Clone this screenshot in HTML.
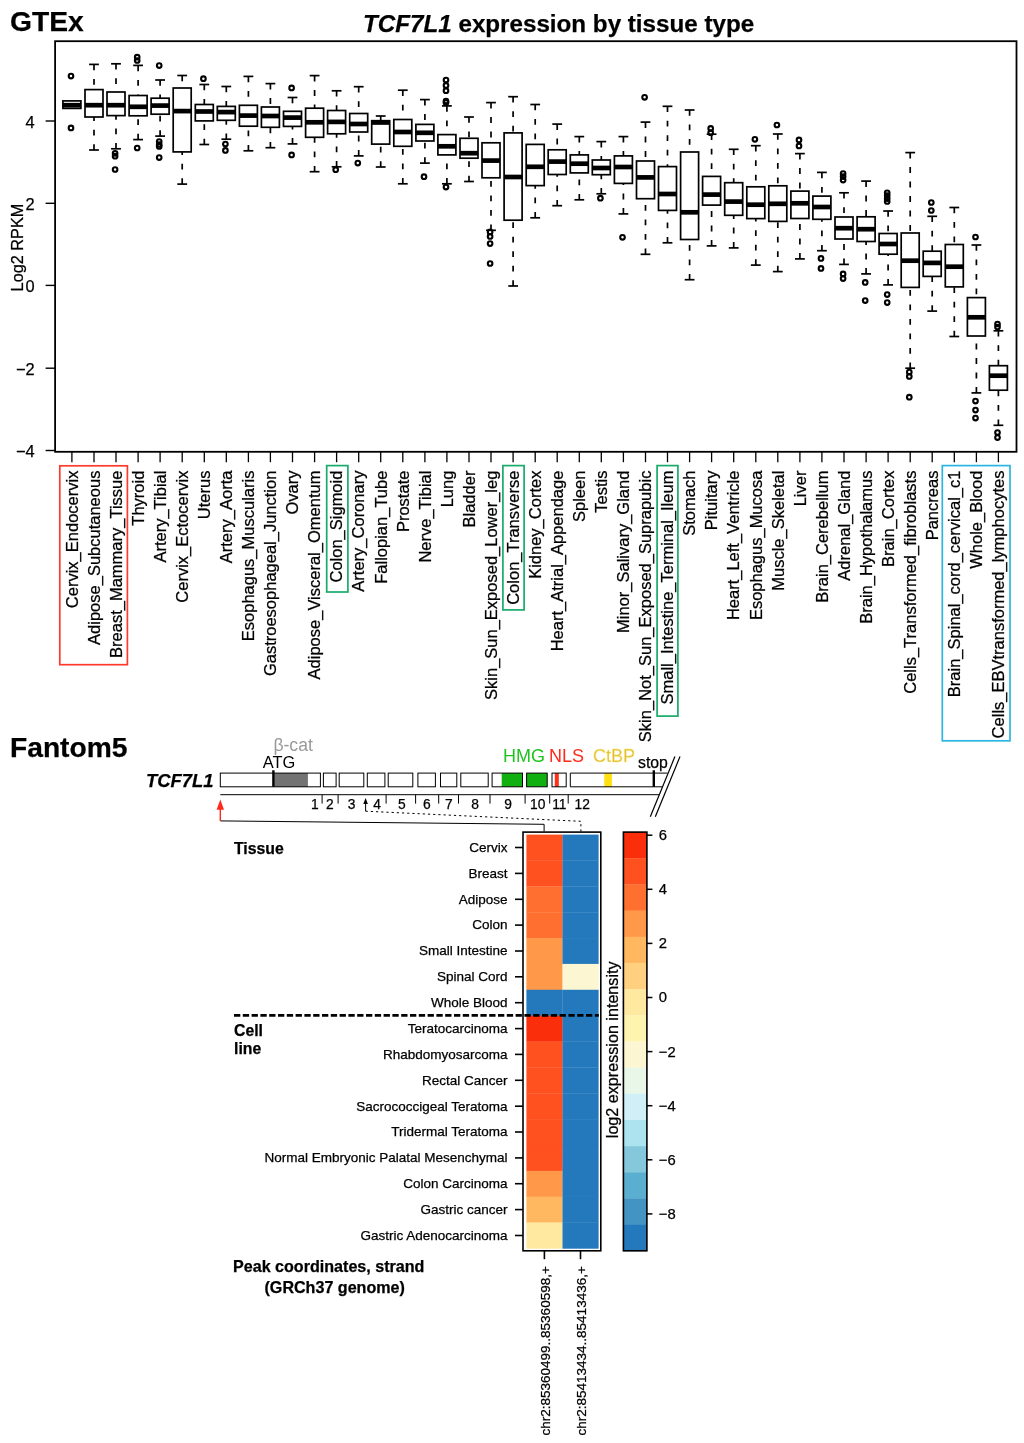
<!DOCTYPE html>
<html><head><meta charset="utf-8"><title>TCF7L1 expression</title>
<style>
html,body{margin:0;padding:0;background:#fff}
svg{display:block}
text{font-family:"Liberation Sans",Arial,Helvetica,sans-serif;fill:#000;stroke:#000;stroke-width:0.25px}
.b{font-weight:bold}
.bi{font-weight:bold;font-style:italic}
</style></head><body>
<svg width="1024" height="1443" viewBox="0 0 1024 1443">
<rect width="1024" height="1443" fill="#fff"/>

<text x="10" y="31.2" class="b" font-size="28.2">GTEx</text>
<text x="363" y="32" class="b" font-size="24.2"><tspan class="bi">TCF7L1</tspan> expression by tissue type</text>
<rect x="55.1" y="41.2" width="961.4" height="410.6" fill="none" stroke="#000" stroke-width="1.8"/>
<line x1="45.6" y1="121" x2="55.1" y2="121" stroke="#000" stroke-width="1.4"/>
<text x="34.6" y="127.5" font-size="16.4" text-anchor="end">4</text>
<line x1="45.6" y1="203.3" x2="55.1" y2="203.3" stroke="#000" stroke-width="1.4"/>
<text x="34.6" y="209.8" font-size="16.4" text-anchor="end">2</text>
<line x1="45.6" y1="285.4" x2="55.1" y2="285.4" stroke="#000" stroke-width="1.4"/>
<text x="34.6" y="291.9" font-size="16.4" text-anchor="end">0</text>
<line x1="45.6" y1="368.2" x2="55.1" y2="368.2" stroke="#000" stroke-width="1.4"/>
<text x="34.6" y="374.7" font-size="16.4" text-anchor="end">−2</text>
<line x1="45.6" y1="450.5" x2="55.1" y2="450.5" stroke="#000" stroke-width="1.4"/>
<text x="34.6" y="457.0" font-size="16.4" text-anchor="end">−4</text>
<text transform="translate(23,247.5) rotate(-90)" font-size="16.3" text-anchor="middle">Log2 RPKM</text>
<g stroke="#000" fill="none" stroke-width="1.7">
<rect x="62.9" y="100.9" width="18" height="7.5" fill="#fff"/>
<line x1="62.9" y1="105.2" x2="80.9" y2="105.2" stroke-width="4.7"/>
<circle cx="71.0" cy="76.1" r="2.3" stroke-width="2.1"/>
<circle cx="71.0" cy="127.9" r="2.3" stroke-width="2.1"/>
<line x1="94.0" y1="64.4" x2="94.0" y2="89.6" stroke-dasharray="5.8 8.7"/>
<line x1="94.0" y1="150" x2="94.0" y2="117" stroke-dasharray="5.8 8.7"/>
<line x1="89.1" y1="64.4" x2="98.9" y2="64.4"/>
<line x1="89.1" y1="150" x2="98.9" y2="150"/>
<rect x="85.0" y="89.6" width="18" height="27.4" fill="#fff"/>
<line x1="85.0" y1="105.2" x2="103.0" y2="105.2" stroke-width="4.7"/>
<line x1="116.0" y1="63.8" x2="116.0" y2="92" stroke-dasharray="5.8 8.7"/>
<line x1="116.0" y1="148.8" x2="116.0" y2="115.6" stroke-dasharray="5.8 8.7"/>
<line x1="111.1" y1="63.8" x2="120.9" y2="63.8"/>
<line x1="111.1" y1="148.8" x2="120.9" y2="148.8"/>
<rect x="107.0" y="92" width="18" height="23.6" fill="#fff"/>
<line x1="107.0" y1="105.2" x2="125.0" y2="105.2" stroke-width="4.7"/>
<circle cx="115.1" cy="153.3" r="2.3" stroke-width="2.1"/>
<circle cx="115.1" cy="156.2" r="2.3" stroke-width="2.1"/>
<circle cx="115.1" cy="169.5" r="2.3" stroke-width="2.1"/>
<line x1="138.1" y1="65.4" x2="138.1" y2="95.5" stroke-dasharray="5.8 8.7"/>
<line x1="138.1" y1="139.6" x2="138.1" y2="115.8" stroke-dasharray="5.8 8.7"/>
<line x1="133.2" y1="65.4" x2="143.0" y2="65.4"/>
<line x1="133.2" y1="139.6" x2="143.0" y2="139.6"/>
<rect x="129.1" y="95.5" width="18" height="20.3" fill="#fff"/>
<line x1="129.1" y1="106.8" x2="147.1" y2="106.8" stroke-width="4.7"/>
<circle cx="137.2" cy="57.2" r="2.3" stroke-width="2.1"/>
<circle cx="137.2" cy="60.5" r="2.3" stroke-width="2.1"/>
<circle cx="137.2" cy="148" r="2.3" stroke-width="2.1"/>
<line x1="160.1" y1="80" x2="160.1" y2="98.2" stroke-dasharray="5.8 8.7"/>
<line x1="160.1" y1="136.1" x2="160.1" y2="114.2" stroke-dasharray="5.8 8.7"/>
<line x1="155.2" y1="80" x2="165.0" y2="80"/>
<line x1="155.2" y1="136.1" x2="165.0" y2="136.1"/>
<rect x="151.1" y="98.2" width="18" height="16.0" fill="#fff"/>
<line x1="151.1" y1="105.6" x2="169.1" y2="105.6" stroke-width="4.7"/>
<circle cx="159.2" cy="65.6" r="2.3" stroke-width="2.1"/>
<circle cx="159.2" cy="141.6" r="2.3" stroke-width="2.1"/>
<circle cx="159.2" cy="144.5" r="2.3" stroke-width="2.1"/>
<circle cx="159.2" cy="146.4" r="2.3" stroke-width="2.1"/>
<circle cx="159.2" cy="157.6" r="2.3" stroke-width="2.1"/>
<line x1="182.2" y1="75.5" x2="182.2" y2="88" stroke-dasharray="5.8 8.7"/>
<line x1="182.2" y1="184.1" x2="182.2" y2="151.9" stroke-dasharray="5.8 8.7"/>
<line x1="177.3" y1="75.5" x2="187.1" y2="75.5"/>
<line x1="177.3" y1="184.1" x2="187.1" y2="184.1"/>
<rect x="173.2" y="88" width="18" height="63.9" fill="#fff"/>
<line x1="173.2" y1="111.1" x2="191.2" y2="111.1" stroke-width="4.7"/>
<line x1="204.3" y1="84.5" x2="204.3" y2="104.5" stroke-dasharray="5.8 8.7"/>
<line x1="204.3" y1="144.5" x2="204.3" y2="120.9" stroke-dasharray="5.8 8.7"/>
<line x1="199.4" y1="84.5" x2="209.2" y2="84.5"/>
<line x1="199.4" y1="144.5" x2="209.2" y2="144.5"/>
<rect x="195.3" y="104.5" width="18" height="16.4" fill="#fff"/>
<line x1="195.3" y1="111.5" x2="213.3" y2="111.5" stroke-width="4.7"/>
<circle cx="203.4" cy="78.7" r="2.3" stroke-width="2.1"/>
<line x1="226.3" y1="86.5" x2="226.3" y2="106.4" stroke-dasharray="5.8 8.7"/>
<line x1="226.3" y1="139.2" x2="226.3" y2="120.3" stroke-dasharray="5.8 8.7"/>
<line x1="221.4" y1="86.5" x2="231.2" y2="86.5"/>
<line x1="221.4" y1="139.2" x2="231.2" y2="139.2"/>
<rect x="217.3" y="106.4" width="18" height="13.9" fill="#fff"/>
<line x1="217.3" y1="112.1" x2="235.3" y2="112.1" stroke-width="4.7"/>
<circle cx="225.4" cy="144.1" r="2.3" stroke-width="2.1"/>
<circle cx="225.4" cy="150.4" r="2.3" stroke-width="2.1"/>
<line x1="248.4" y1="76.4" x2="248.4" y2="105.3" stroke-dasharray="5.8 8.7"/>
<line x1="248.4" y1="150.8" x2="248.4" y2="126.2" stroke-dasharray="5.8 8.7"/>
<line x1="243.5" y1="76.4" x2="253.3" y2="76.4"/>
<line x1="243.5" y1="150.8" x2="253.3" y2="150.8"/>
<rect x="239.4" y="105.3" width="18" height="20.9" fill="#fff"/>
<line x1="239.4" y1="115.6" x2="257.4" y2="115.6" stroke-width="4.7"/>
<line x1="270.4" y1="83.6" x2="270.4" y2="107" stroke-dasharray="5.8 8.7"/>
<line x1="270.4" y1="147.7" x2="270.4" y2="127.3" stroke-dasharray="5.8 8.7"/>
<line x1="265.5" y1="83.6" x2="275.3" y2="83.6"/>
<line x1="265.5" y1="147.7" x2="275.3" y2="147.7"/>
<rect x="261.4" y="107" width="18" height="20.3" fill="#fff"/>
<line x1="261.4" y1="116" x2="279.4" y2="116" stroke-width="4.7"/>
<line x1="292.5" y1="97.5" x2="292.5" y2="111.3" stroke-dasharray="5.8 8.7"/>
<line x1="292.5" y1="143.9" x2="292.5" y2="126.4" stroke-dasharray="5.8 8.7"/>
<line x1="287.6" y1="97.5" x2="297.4" y2="97.5"/>
<line x1="287.6" y1="143.9" x2="297.4" y2="143.9"/>
<rect x="283.5" y="111.3" width="18" height="15.1" fill="#fff"/>
<line x1="283.5" y1="117.6" x2="301.5" y2="117.6" stroke-width="4.7"/>
<circle cx="291.6" cy="87.9" r="2.3" stroke-width="2.1"/>
<circle cx="291.6" cy="154.9" r="2.3" stroke-width="2.1"/>
<line x1="314.6" y1="75.6" x2="314.6" y2="108.2" stroke-dasharray="5.8 8.7"/>
<line x1="314.6" y1="171.7" x2="314.6" y2="137.3" stroke-dasharray="5.8 8.7"/>
<line x1="309.7" y1="75.6" x2="319.5" y2="75.6"/>
<line x1="309.7" y1="171.7" x2="319.5" y2="171.7"/>
<rect x="305.6" y="108.2" width="18" height="29.1" fill="#fff"/>
<line x1="305.6" y1="122.3" x2="323.6" y2="122.3" stroke-width="4.7"/>
<line x1="336.6" y1="90.8" x2="336.6" y2="110.5" stroke-dasharray="5.8 8.7"/>
<line x1="336.6" y1="166.8" x2="336.6" y2="133.8" stroke-dasharray="5.8 8.7"/>
<line x1="331.7" y1="90.8" x2="341.5" y2="90.8"/>
<line x1="331.7" y1="166.8" x2="341.5" y2="166.8"/>
<rect x="327.6" y="110.5" width="18" height="23.3" fill="#fff"/>
<line x1="327.6" y1="121.9" x2="345.6" y2="121.9" stroke-width="4.7"/>
<circle cx="335.7" cy="169.7" r="2.3" stroke-width="2.1"/>
<line x1="358.7" y1="86.7" x2="358.7" y2="113.5" stroke-dasharray="5.8 8.7"/>
<line x1="358.7" y1="155.9" x2="358.7" y2="132" stroke-dasharray="5.8 8.7"/>
<line x1="353.8" y1="86.7" x2="363.6" y2="86.7"/>
<line x1="353.8" y1="155.9" x2="363.6" y2="155.9"/>
<rect x="349.7" y="113.5" width="18" height="18.5" fill="#fff"/>
<line x1="349.7" y1="124" x2="367.7" y2="124" stroke-width="4.7"/>
<circle cx="357.8" cy="163.1" r="2.3" stroke-width="2.1"/>
<line x1="380.7" y1="116" x2="380.7" y2="120.7" stroke-dasharray="5.8 8.7"/>
<line x1="380.7" y1="167" x2="380.7" y2="144.1" stroke-dasharray="5.8 8.7"/>
<line x1="375.8" y1="116" x2="385.6" y2="116"/>
<line x1="375.8" y1="167" x2="385.6" y2="167"/>
<rect x="371.7" y="120.7" width="18" height="23.4" fill="#fff"/>
<line x1="371.7" y1="122.5" x2="389.7" y2="122.5" stroke-width="4.7"/>
<line x1="402.8" y1="90.2" x2="402.8" y2="119.5" stroke-dasharray="5.8 8.7"/>
<line x1="402.8" y1="183.8" x2="402.8" y2="146.3" stroke-dasharray="5.8 8.7"/>
<line x1="397.9" y1="90.2" x2="407.7" y2="90.2"/>
<line x1="397.9" y1="183.8" x2="407.7" y2="183.8"/>
<rect x="393.8" y="119.5" width="18" height="26.8" fill="#fff"/>
<line x1="393.8" y1="132" x2="411.8" y2="132" stroke-width="4.7"/>
<line x1="424.9" y1="99.6" x2="424.9" y2="124.4" stroke-dasharray="5.8 8.7"/>
<line x1="424.9" y1="163.1" x2="424.9" y2="141" stroke-dasharray="5.8 8.7"/>
<line x1="420.0" y1="99.6" x2="429.8" y2="99.6"/>
<line x1="420.0" y1="163.1" x2="429.8" y2="163.1"/>
<rect x="415.9" y="124.4" width="18" height="16.6" fill="#fff"/>
<line x1="415.9" y1="132.8" x2="433.9" y2="132.8" stroke-width="4.7"/>
<circle cx="424.0" cy="176.7" r="2.3" stroke-width="2.1"/>
<line x1="446.9" y1="105.9" x2="446.9" y2="134.6" stroke-dasharray="5.8 8.7"/>
<line x1="446.9" y1="183.8" x2="446.9" y2="154.9" stroke-dasharray="5.8 8.7"/>
<line x1="442.0" y1="105.9" x2="451.8" y2="105.9"/>
<line x1="442.0" y1="183.8" x2="451.8" y2="183.8"/>
<rect x="437.9" y="134.6" width="18" height="20.3" fill="#fff"/>
<line x1="437.9" y1="146.3" x2="455.9" y2="146.3" stroke-width="4.7"/>
<circle cx="446.0" cy="80.1" r="2.3" stroke-width="2.1"/>
<circle cx="446.0" cy="85.4" r="2.3" stroke-width="2.1"/>
<circle cx="446.0" cy="90.7" r="2.3" stroke-width="2.1"/>
<circle cx="446.0" cy="101" r="2.3" stroke-width="2.1"/>
<circle cx="446.0" cy="102.6" r="2.3" stroke-width="2.1"/>
<circle cx="446.0" cy="187.1" r="2.3" stroke-width="2.1"/>
<line x1="469.0" y1="117" x2="469.0" y2="138.3" stroke-dasharray="5.8 8.7"/>
<line x1="469.0" y1="181.5" x2="469.0" y2="158.2" stroke-dasharray="5.8 8.7"/>
<line x1="464.1" y1="117" x2="473.9" y2="117"/>
<line x1="464.1" y1="181.5" x2="473.9" y2="181.5"/>
<rect x="460.0" y="138.3" width="18" height="19.9" fill="#fff"/>
<line x1="460.0" y1="153.2" x2="478.0" y2="153.2" stroke-width="4.7"/>
<line x1="491.0" y1="102.6" x2="491.0" y2="142.8" stroke-dasharray="5.8 8.7"/>
<line x1="491.0" y1="230.3" x2="491.0" y2="177.8" stroke-dasharray="5.8 8.7"/>
<line x1="486.1" y1="102.6" x2="495.9" y2="102.6"/>
<line x1="486.1" y1="230.3" x2="495.9" y2="230.3"/>
<rect x="482.0" y="142.8" width="18" height="35.0" fill="#fff"/>
<line x1="482.0" y1="160.6" x2="500.0" y2="160.6" stroke-width="4.7"/>
<circle cx="490.1" cy="231.9" r="2.3" stroke-width="2.1"/>
<circle cx="490.1" cy="236.4" r="2.3" stroke-width="2.1"/>
<circle cx="490.1" cy="243.6" r="2.3" stroke-width="2.1"/>
<circle cx="490.1" cy="263.5" r="2.3" stroke-width="2.1"/>
<line x1="513.1" y1="96.7" x2="513.1" y2="132.9" stroke-dasharray="5.8 8.7"/>
<line x1="513.1" y1="286" x2="513.1" y2="220.2" stroke-dasharray="5.8 8.7"/>
<line x1="508.2" y1="96.7" x2="518.0" y2="96.7"/>
<line x1="508.2" y1="286" x2="518.0" y2="286"/>
<rect x="504.1" y="132.9" width="18" height="87.3" fill="#fff"/>
<line x1="504.1" y1="177" x2="522.1" y2="177" stroke-width="4.7"/>
<line x1="535.2" y1="104.5" x2="535.2" y2="144.4" stroke-dasharray="5.8 8.7"/>
<line x1="535.2" y1="217.8" x2="535.2" y2="185.6" stroke-dasharray="5.8 8.7"/>
<line x1="530.3" y1="104.5" x2="540.1" y2="104.5"/>
<line x1="530.3" y1="217.8" x2="540.1" y2="217.8"/>
<rect x="526.2" y="144.4" width="18" height="41.2" fill="#fff"/>
<line x1="526.2" y1="166.8" x2="544.2" y2="166.8" stroke-width="4.7"/>
<line x1="557.2" y1="124.1" x2="557.2" y2="149.8" stroke-dasharray="5.8 8.7"/>
<line x1="557.2" y1="205.7" x2="557.2" y2="174.5" stroke-dasharray="5.8 8.7"/>
<line x1="552.3" y1="124.1" x2="562.1" y2="124.1"/>
<line x1="552.3" y1="205.7" x2="562.1" y2="205.7"/>
<rect x="548.2" y="149.8" width="18" height="24.7" fill="#fff"/>
<line x1="548.2" y1="161.6" x2="566.2" y2="161.6" stroke-width="4.7"/>
<line x1="579.3" y1="136.6" x2="579.3" y2="154.9" stroke-dasharray="5.8 8.7"/>
<line x1="579.3" y1="199.8" x2="579.3" y2="172.9" stroke-dasharray="5.8 8.7"/>
<line x1="574.4" y1="136.6" x2="584.2" y2="136.6"/>
<line x1="574.4" y1="199.8" x2="584.2" y2="199.8"/>
<rect x="570.3" y="154.9" width="18" height="18.0" fill="#fff"/>
<line x1="570.3" y1="163.7" x2="588.3" y2="163.7" stroke-width="4.7"/>
<line x1="601.3" y1="141.6" x2="601.3" y2="160" stroke-dasharray="5.8 8.7"/>
<line x1="601.3" y1="193.8" x2="601.3" y2="174.7" stroke-dasharray="5.8 8.7"/>
<line x1="596.4" y1="141.6" x2="606.2" y2="141.6"/>
<line x1="596.4" y1="193.8" x2="606.2" y2="193.8"/>
<rect x="592.3" y="160" width="18" height="14.7" fill="#fff"/>
<line x1="592.3" y1="168" x2="610.3" y2="168" stroke-width="4.7"/>
<circle cx="600.4" cy="198.2" r="2.3" stroke-width="2.1"/>
<line x1="623.4" y1="136.6" x2="623.4" y2="155.9" stroke-dasharray="5.8 8.7"/>
<line x1="623.4" y1="213.9" x2="623.4" y2="183.4" stroke-dasharray="5.8 8.7"/>
<line x1="618.5" y1="136.6" x2="628.3" y2="136.6"/>
<line x1="618.5" y1="213.9" x2="628.3" y2="213.9"/>
<rect x="614.4" y="155.9" width="18" height="27.5" fill="#fff"/>
<line x1="614.4" y1="167" x2="632.4" y2="167" stroke-width="4.7"/>
<circle cx="622.5" cy="237.3" r="2.3" stroke-width="2.1"/>
<line x1="645.5" y1="122.1" x2="645.5" y2="161" stroke-dasharray="5.8 8.7"/>
<line x1="645.5" y1="254.3" x2="645.5" y2="198.7" stroke-dasharray="5.8 8.7"/>
<line x1="640.6" y1="122.1" x2="650.4" y2="122.1"/>
<line x1="640.6" y1="254.3" x2="650.4" y2="254.3"/>
<rect x="636.5" y="161" width="18" height="37.7" fill="#fff"/>
<line x1="636.5" y1="177.4" x2="654.5" y2="177.4" stroke-width="4.7"/>
<circle cx="644.6" cy="97.3" r="2.3" stroke-width="2.1"/>
<line x1="667.5" y1="106.3" x2="667.5" y2="166.6" stroke-dasharray="5.8 8.7"/>
<line x1="667.5" y1="242.8" x2="667.5" y2="210.4" stroke-dasharray="5.8 8.7"/>
<line x1="662.6" y1="106.3" x2="672.4" y2="106.3"/>
<line x1="662.6" y1="242.8" x2="672.4" y2="242.8"/>
<rect x="658.5" y="166.6" width="18" height="43.8" fill="#fff"/>
<line x1="658.5" y1="194" x2="676.5" y2="194" stroke-width="4.7"/>
<line x1="689.6" y1="110" x2="689.6" y2="152" stroke-dasharray="5.8 8.7"/>
<line x1="689.6" y1="279.7" x2="689.6" y2="239.5" stroke-dasharray="5.8 8.7"/>
<line x1="684.7" y1="110" x2="694.5" y2="110"/>
<line x1="684.7" y1="279.7" x2="694.5" y2="279.7"/>
<rect x="680.6" y="152" width="18" height="87.5" fill="#fff"/>
<line x1="680.6" y1="212.3" x2="698.6" y2="212.3" stroke-width="4.7"/>
<line x1="711.6" y1="134.2" x2="711.6" y2="176.4" stroke-dasharray="5.8 8.7"/>
<line x1="711.6" y1="245.9" x2="711.6" y2="205.1" stroke-dasharray="5.8 8.7"/>
<line x1="706.7" y1="134.2" x2="716.5" y2="134.2"/>
<line x1="706.7" y1="245.9" x2="716.5" y2="245.9"/>
<rect x="702.6" y="176.4" width="18" height="28.7" fill="#fff"/>
<line x1="702.6" y1="194.6" x2="720.6" y2="194.6" stroke-width="4.7"/>
<circle cx="710.7" cy="128.4" r="2.3" stroke-width="2.1"/>
<circle cx="710.7" cy="132.7" r="2.3" stroke-width="2.1"/>
<line x1="733.7" y1="149.3" x2="733.7" y2="182.7" stroke-dasharray="5.8 8.7"/>
<line x1="733.7" y1="247.9" x2="733.7" y2="215.3" stroke-dasharray="5.8 8.7"/>
<line x1="728.8" y1="149.3" x2="738.6" y2="149.3"/>
<line x1="728.8" y1="247.9" x2="738.6" y2="247.9"/>
<rect x="724.7" y="182.7" width="18" height="32.6" fill="#fff"/>
<line x1="724.7" y1="201.6" x2="742.7" y2="201.6" stroke-width="4.7"/>
<line x1="755.8" y1="145.7" x2="755.8" y2="186.8" stroke-dasharray="5.8 8.7"/>
<line x1="755.8" y1="265.1" x2="755.8" y2="218.6" stroke-dasharray="5.8 8.7"/>
<line x1="750.9" y1="145.7" x2="760.7" y2="145.7"/>
<line x1="750.9" y1="265.1" x2="760.7" y2="265.1"/>
<rect x="746.8" y="186.8" width="18" height="31.8" fill="#fff"/>
<line x1="746.8" y1="204.7" x2="764.8" y2="204.7" stroke-width="4.7"/>
<circle cx="754.9" cy="139.3" r="2.3" stroke-width="2.1"/>
<line x1="777.8" y1="134" x2="777.8" y2="185.8" stroke-dasharray="5.8 8.7"/>
<line x1="777.8" y1="271.6" x2="777.8" y2="221.4" stroke-dasharray="5.8 8.7"/>
<line x1="772.9" y1="134" x2="782.7" y2="134"/>
<line x1="772.9" y1="271.6" x2="782.7" y2="271.6"/>
<rect x="768.8" y="185.8" width="18" height="35.6" fill="#fff"/>
<line x1="768.8" y1="203.8" x2="786.8" y2="203.8" stroke-width="4.7"/>
<circle cx="776.9" cy="125" r="2.3" stroke-width="2.1"/>
<line x1="799.9" y1="153.6" x2="799.9" y2="191.1" stroke-dasharray="5.8 8.7"/>
<line x1="799.9" y1="258.9" x2="799.9" y2="218.5" stroke-dasharray="5.8 8.7"/>
<line x1="795.0" y1="153.6" x2="804.8" y2="153.6"/>
<line x1="795.0" y1="258.9" x2="804.8" y2="258.9"/>
<rect x="790.9" y="191.1" width="18" height="27.4" fill="#fff"/>
<line x1="790.9" y1="203.3" x2="808.9" y2="203.3" stroke-width="4.7"/>
<circle cx="799.0" cy="139.9" r="2.3" stroke-width="2.1"/>
<circle cx="799.0" cy="145.9" r="2.3" stroke-width="2.1"/>
<line x1="821.9" y1="172.4" x2="821.9" y2="196.1" stroke-dasharray="5.8 8.7"/>
<line x1="821.9" y1="250.7" x2="821.9" y2="219.3" stroke-dasharray="5.8 8.7"/>
<line x1="817.0" y1="172.4" x2="826.8" y2="172.4"/>
<line x1="817.0" y1="250.7" x2="826.8" y2="250.7"/>
<rect x="812.9" y="196.1" width="18" height="23.2" fill="#fff"/>
<line x1="812.9" y1="207" x2="830.9" y2="207" stroke-width="4.7"/>
<circle cx="821.0" cy="258.4" r="2.3" stroke-width="2.1"/>
<circle cx="821.0" cy="268.4" r="2.3" stroke-width="2.1"/>
<line x1="844.0" y1="192.8" x2="844.0" y2="217" stroke-dasharray="5.8 8.7"/>
<line x1="844.0" y1="264.4" x2="844.0" y2="239" stroke-dasharray="5.8 8.7"/>
<line x1="839.1" y1="192.8" x2="848.9" y2="192.8"/>
<line x1="839.1" y1="264.4" x2="848.9" y2="264.4"/>
<rect x="835.0" y="217" width="18" height="22.0" fill="#fff"/>
<line x1="835.0" y1="228.2" x2="853.0" y2="228.2" stroke-width="4.7"/>
<circle cx="843.1" cy="173.6" r="2.3" stroke-width="2.1"/>
<circle cx="843.1" cy="176.6" r="2.3" stroke-width="2.1"/>
<circle cx="843.1" cy="180.1" r="2.3" stroke-width="2.1"/>
<circle cx="843.1" cy="273.9" r="2.3" stroke-width="2.1"/>
<circle cx="843.1" cy="278.6" r="2.3" stroke-width="2.1"/>
<line x1="866.1" y1="181.1" x2="866.1" y2="216.8" stroke-dasharray="5.8 8.7"/>
<line x1="866.1" y1="273.9" x2="866.1" y2="241.5" stroke-dasharray="5.8 8.7"/>
<line x1="861.2" y1="181.1" x2="871.0" y2="181.1"/>
<line x1="861.2" y1="273.9" x2="871.0" y2="273.9"/>
<rect x="857.1" y="216.8" width="18" height="24.7" fill="#fff"/>
<line x1="857.1" y1="229.2" x2="875.1" y2="229.2" stroke-width="4.7"/>
<circle cx="865.2" cy="282.4" r="2.3" stroke-width="2.1"/>
<circle cx="865.2" cy="300.6" r="2.3" stroke-width="2.1"/>
<line x1="888.1" y1="211" x2="888.1" y2="233.5" stroke-dasharray="5.8 8.7"/>
<line x1="888.1" y1="284.9" x2="888.1" y2="254.2" stroke-dasharray="5.8 8.7"/>
<line x1="883.2" y1="211" x2="893.0" y2="211"/>
<line x1="883.2" y1="284.9" x2="893.0" y2="284.9"/>
<rect x="879.1" y="233.5" width="18" height="20.7" fill="#fff"/>
<line x1="879.1" y1="244" x2="897.1" y2="244" stroke-width="4.7"/>
<circle cx="887.2" cy="192.8" r="2.3" stroke-width="2.1"/>
<circle cx="887.2" cy="195.6" r="2.3" stroke-width="2.1"/>
<circle cx="887.2" cy="198.6" r="2.3" stroke-width="2.1"/>
<circle cx="887.2" cy="201.5" r="2.3" stroke-width="2.1"/>
<circle cx="887.2" cy="294.6" r="2.3" stroke-width="2.1"/>
<circle cx="887.2" cy="302.6" r="2.3" stroke-width="2.1"/>
<line x1="910.2" y1="152.6" x2="910.2" y2="233" stroke-dasharray="5.8 8.7"/>
<line x1="910.2" y1="368.2" x2="910.2" y2="287.4" stroke-dasharray="5.8 8.7"/>
<line x1="905.3" y1="152.6" x2="915.1" y2="152.6"/>
<line x1="905.3" y1="368.2" x2="915.1" y2="368.2"/>
<rect x="901.2" y="233" width="18" height="54.4" fill="#fff"/>
<line x1="901.2" y1="260.7" x2="919.2" y2="260.7" stroke-width="4.7"/>
<circle cx="909.3" cy="372" r="2.3" stroke-width="2.1"/>
<circle cx="909.3" cy="376.4" r="2.3" stroke-width="2.1"/>
<circle cx="909.3" cy="397.2" r="2.3" stroke-width="2.1"/>
<line x1="932.2" y1="216.3" x2="932.2" y2="251.2" stroke-dasharray="5.8 8.7"/>
<line x1="932.2" y1="311.1" x2="932.2" y2="276.4" stroke-dasharray="5.8 8.7"/>
<line x1="927.3" y1="216.3" x2="937.1" y2="216.3"/>
<line x1="927.3" y1="311.1" x2="937.1" y2="311.1"/>
<rect x="923.2" y="251.2" width="18" height="25.2" fill="#fff"/>
<line x1="923.2" y1="262.9" x2="941.2" y2="262.9" stroke-width="4.7"/>
<circle cx="931.3" cy="202.5" r="2.3" stroke-width="2.1"/>
<circle cx="931.3" cy="210.5" r="2.3" stroke-width="2.1"/>
<line x1="954.3" y1="207.5" x2="954.3" y2="244.5" stroke-dasharray="5.8 8.7"/>
<line x1="954.3" y1="336.5" x2="954.3" y2="286.9" stroke-dasharray="5.8 8.7"/>
<line x1="949.4" y1="207.5" x2="959.2" y2="207.5"/>
<line x1="949.4" y1="336.5" x2="959.2" y2="336.5"/>
<rect x="945.3" y="244.5" width="18" height="42.4" fill="#fff"/>
<line x1="945.3" y1="266.7" x2="963.3" y2="266.7" stroke-width="4.7"/>
<line x1="976.4" y1="245" x2="976.4" y2="297.6" stroke-dasharray="5.8 8.7"/>
<line x1="976.4" y1="392.9" x2="976.4" y2="336" stroke-dasharray="5.8 8.7"/>
<line x1="971.5" y1="245" x2="981.3" y2="245"/>
<line x1="971.5" y1="392.9" x2="981.3" y2="392.9"/>
<rect x="967.4" y="297.6" width="18" height="38.4" fill="#fff"/>
<line x1="967.4" y1="317.3" x2="985.4" y2="317.3" stroke-width="4.7"/>
<circle cx="975.5" cy="237" r="2.3" stroke-width="2.1"/>
<circle cx="975.5" cy="401.1" r="2.3" stroke-width="2.1"/>
<circle cx="975.5" cy="410.1" r="2.3" stroke-width="2.1"/>
<circle cx="975.5" cy="418.1" r="2.3" stroke-width="2.1"/>
<line x1="998.4" y1="330.8" x2="998.4" y2="365.7" stroke-dasharray="5.8 8.7"/>
<line x1="998.4" y1="425.3" x2="998.4" y2="390.2" stroke-dasharray="5.8 8.7"/>
<line x1="993.5" y1="330.8" x2="1003.3" y2="330.8"/>
<line x1="993.5" y1="425.3" x2="1003.3" y2="425.3"/>
<rect x="989.4" y="365.7" width="18" height="24.5" fill="#fff"/>
<line x1="989.4" y1="375.7" x2="1007.4" y2="375.7" stroke-width="4.7"/>
<circle cx="997.5" cy="324" r="2.3" stroke-width="2.1"/>
<circle cx="997.5" cy="327" r="2.3" stroke-width="2.1"/>
<circle cx="997.5" cy="432.6" r="2.3" stroke-width="2.1"/>
<circle cx="997.5" cy="437.6" r="2.3" stroke-width="2.1"/>
</g>
<g stroke="#000" stroke-width="1.3">
<line x1="71.9" y1="451.8" x2="71.9" y2="462.2"/>
<line x1="94.0" y1="451.8" x2="94.0" y2="462.2"/>
<line x1="116.0" y1="451.8" x2="116.0" y2="462.2"/>
<line x1="138.1" y1="451.8" x2="138.1" y2="462.2"/>
<line x1="160.1" y1="451.8" x2="160.1" y2="462.2"/>
<line x1="182.2" y1="451.8" x2="182.2" y2="462.2"/>
<line x1="204.3" y1="451.8" x2="204.3" y2="462.2"/>
<line x1="226.3" y1="451.8" x2="226.3" y2="462.2"/>
<line x1="248.4" y1="451.8" x2="248.4" y2="462.2"/>
<line x1="270.4" y1="451.8" x2="270.4" y2="462.2"/>
<line x1="292.5" y1="451.8" x2="292.5" y2="462.2"/>
<line x1="314.6" y1="451.8" x2="314.6" y2="462.2"/>
<line x1="336.6" y1="451.8" x2="336.6" y2="462.2"/>
<line x1="358.7" y1="451.8" x2="358.7" y2="462.2"/>
<line x1="380.7" y1="451.8" x2="380.7" y2="462.2"/>
<line x1="402.8" y1="451.8" x2="402.8" y2="462.2"/>
<line x1="424.9" y1="451.8" x2="424.9" y2="462.2"/>
<line x1="446.9" y1="451.8" x2="446.9" y2="462.2"/>
<line x1="469.0" y1="451.8" x2="469.0" y2="462.2"/>
<line x1="491.0" y1="451.8" x2="491.0" y2="462.2"/>
<line x1="513.1" y1="451.8" x2="513.1" y2="462.2"/>
<line x1="535.2" y1="451.8" x2="535.2" y2="462.2"/>
<line x1="557.2" y1="451.8" x2="557.2" y2="462.2"/>
<line x1="579.3" y1="451.8" x2="579.3" y2="462.2"/>
<line x1="601.3" y1="451.8" x2="601.3" y2="462.2"/>
<line x1="623.4" y1="451.8" x2="623.4" y2="462.2"/>
<line x1="645.5" y1="451.8" x2="645.5" y2="462.2"/>
<line x1="667.5" y1="451.8" x2="667.5" y2="462.2"/>
<line x1="689.6" y1="451.8" x2="689.6" y2="462.2"/>
<line x1="711.6" y1="451.8" x2="711.6" y2="462.2"/>
<line x1="733.7" y1="451.8" x2="733.7" y2="462.2"/>
<line x1="755.8" y1="451.8" x2="755.8" y2="462.2"/>
<line x1="777.8" y1="451.8" x2="777.8" y2="462.2"/>
<line x1="799.9" y1="451.8" x2="799.9" y2="462.2"/>
<line x1="821.9" y1="451.8" x2="821.9" y2="462.2"/>
<line x1="844.0" y1="451.8" x2="844.0" y2="462.2"/>
<line x1="866.1" y1="451.8" x2="866.1" y2="462.2"/>
<line x1="888.1" y1="451.8" x2="888.1" y2="462.2"/>
<line x1="910.2" y1="451.8" x2="910.2" y2="462.2"/>
<line x1="932.2" y1="451.8" x2="932.2" y2="462.2"/>
<line x1="954.3" y1="451.8" x2="954.3" y2="462.2"/>
<line x1="976.4" y1="451.8" x2="976.4" y2="462.2"/>
<line x1="998.4" y1="451.8" x2="998.4" y2="462.2"/>
</g>
<g font-size="16.5" text-anchor="end">
<text transform="translate(77.7,470.6) rotate(-90)">Cervix_Endocervix</text>
<text transform="translate(99.7,470.6) rotate(-90)">Adipose_Subcutaneous</text>
<text transform="translate(121.8,470.6) rotate(-90)">Breast_Mammary_Tissue</text>
<text transform="translate(143.8,470.6) rotate(-90)">Thyroid</text>
<text transform="translate(165.9,470.6) rotate(-90)">Artery_Tibial</text>
<text transform="translate(187.9,470.6) rotate(-90)">Cervix_Ectocervix</text>
<text transform="translate(210.0,470.6) rotate(-90)">Uterus</text>
<text transform="translate(232.1,470.6) rotate(-90)">Artery_Aorta</text>
<text transform="translate(254.1,470.6) rotate(-90)">Esophagus_Muscularis</text>
<text transform="translate(276.2,470.6) rotate(-90)">Gastroesophageal_Junction</text>
<text transform="translate(298.2,470.6) rotate(-90)">Ovary</text>
<text transform="translate(320.3,470.6) rotate(-90)">Adipose_Visceral_Omentum</text>
<text transform="translate(342.4,470.6) rotate(-90)">Colon_Sigmoid</text>
<text transform="translate(364.4,470.6) rotate(-90)">Artery_Coronary</text>
<text transform="translate(386.5,470.6) rotate(-90)">Fallopian_Tube</text>
<text transform="translate(408.5,470.6) rotate(-90)">Prostate</text>
<text transform="translate(430.6,470.6) rotate(-90)">Nerve_Tibial</text>
<text transform="translate(452.7,470.6) rotate(-90)">Lung</text>
<text transform="translate(474.7,470.6) rotate(-90)">Bladder</text>
<text transform="translate(496.8,470.6) rotate(-90)">Skin_Sun_Exposed_Lower_leg</text>
<text transform="translate(518.9,470.6) rotate(-90)">Colon_Transverse</text>
<text transform="translate(540.9,470.6) rotate(-90)">Kidney_Cortex</text>
<text transform="translate(563.0,470.6) rotate(-90)">Heart_Atrial_Appendage</text>
<text transform="translate(585.0,470.6) rotate(-90)">Spleen</text>
<text transform="translate(607.1,470.6) rotate(-90)">Testis</text>
<text transform="translate(629.1,470.6) rotate(-90)">Minor_Salivary_Gland</text>
<text transform="translate(651.2,470.6) rotate(-90)">Skin_Not_Sun_Exposed_Suprapubic</text>
<text transform="translate(673.3,470.6) rotate(-90)">Small_Intestine_Terminal_Ileum</text>
<text transform="translate(695.3,470.6) rotate(-90)">Stomach</text>
<text transform="translate(717.4,470.6) rotate(-90)">Pituitary</text>
<text transform="translate(739.4,470.6) rotate(-90)">Heart_Left_Ventricle</text>
<text transform="translate(761.5,470.6) rotate(-90)">Esophagus_Mucosa</text>
<text transform="translate(783.6,470.6) rotate(-90)">Muscle_Skeletal</text>
<text transform="translate(805.6,470.6) rotate(-90)">Liver</text>
<text transform="translate(827.7,470.6) rotate(-90)">Brain_Cerebellum</text>
<text transform="translate(849.7,470.6) rotate(-90)">Adrenal_Gland</text>
<text transform="translate(871.8,470.6) rotate(-90)">Brain_Hypothalamus</text>
<text transform="translate(893.9,470.6) rotate(-90)">Brain_Cortex</text>
<text transform="translate(915.9,470.6) rotate(-90)">Cells_Transformed_fibroblasts</text>
<text transform="translate(938.0,470.6) rotate(-90)">Pancreas</text>
<text transform="translate(960.0,470.6) rotate(-90)">Brain_Spinal_cord_cervical_c1</text>
<text transform="translate(982.1,470.6) rotate(-90)">Whole_Blood</text>
<text transform="translate(1004.2,470.6) rotate(-90)">Cells_EBVtransformed_lymphocytes</text>
</g>
<rect x="59.8" y="465.8" width="67.6" height="198.9" fill="none" stroke="#ff3a2d" stroke-width="1.7"/>
<rect x="326.7" y="465.6" width="21.2" height="126.4" fill="none" stroke="#1aaa6a" stroke-width="1.7"/>
<rect x="502.9" y="465.6" width="21.2" height="144.3" fill="none" stroke="#1aaa6a" stroke-width="1.7"/>
<rect x="657.1" y="465.6" width="20.8" height="250.5" fill="none" stroke="#1aaa6a" stroke-width="1.7"/>
<rect x="942.3" y="465.6" width="67.7" height="275.2" fill="none" stroke="#2bb5e0" stroke-width="1.7"/>
<text x="10" y="757.3" class="b" font-size="28.2">Fantom5</text>
<text x="146" y="786.7" class="bi" font-size="18.4">TCF7L1</text>
<text x="273.4" y="751.2" font-size="17.6" style="fill:#999;stroke:none">β-cat</text>
<text x="262.8" y="768.3" font-size="16.4" style="stroke:none">ATG</text>
<text x="503" y="762.4" font-size="18" style="fill:#1fc41f;stroke:none">HMG</text>
<text x="549" y="762.4" font-size="18" style="fill:#ff2a1a;stroke:none">NLS</text>
<text x="593" y="762.4" font-size="18" style="fill:#d8b838;stroke:#ffe870;stroke-width:0.5px">CtBP</text>
<text x="638" y="768" font-size="15.8">stop</text>
<rect x="274.1" y="773.1" width="33.8" height="13.7" fill="#737373"/>
<rect x="501.7" y="773.1" width="20.8" height="13.7" fill="#10b010"/>
<rect x="526.6" y="773.1" width="20.6" height="13.7" fill="#10b010"/>
<rect x="554.8" y="773.1" width="4" height="13.7" fill="#ff3018"/>
<rect x="604.3" y="773.1" width="7.6" height="13.7" fill="#ffe010"/>
<g stroke="#000" stroke-width="1" fill="none">
<rect x="220.3" y="773.1" width="100.1" height="13.7"/>
<rect x="323.4" y="773.1" width="12.7" height="13.7"/>
<rect x="339.2" y="773.1" width="24.6" height="13.7"/>
<rect x="367.3" y="773.1" width="17.6" height="13.7"/>
<rect x="388.2" y="773.1" width="24.6" height="13.7"/>
<rect x="417.9" y="773.1" width="17.5" height="13.7"/>
<rect x="440.5" y="773.1" width="16.3" height="13.7"/>
<rect x="460.8" y="773.1" width="27.4" height="13.7"/>
<rect x="492.1" y="773.1" width="30.4" height="13.7"/>
<rect x="526.6" y="773.1" width="20.6" height="13.7"/>
<rect x="552" y="773.1" width="14.2" height="13.7"/>
<path d="M667.5,773.1 H570.3 V786.8 H662"/>
<line x1="220.3" y1="794.7" x2="659.2" y2="794.7"/>
<line x1="322.1" y1="794.7" x2="322.1" y2="803.6"/>
<line x1="338.1" y1="794.7" x2="338.1" y2="803.6"/>
<line x1="386.1" y1="794.7" x2="386.1" y2="803.6"/>
<line x1="415.6" y1="794.7" x2="415.6" y2="803.6"/>
<line x1="438.7" y1="794.7" x2="438.7" y2="803.6"/>
<line x1="458.5" y1="794.7" x2="458.5" y2="803.6"/>
<line x1="490" y1="794.7" x2="490" y2="803.6"/>
<line x1="525.1" y1="794.7" x2="525.1" y2="803.6"/>
<line x1="549.7" y1="794.7" x2="549.7" y2="803.6"/>
<line x1="568.2" y1="794.7" x2="568.2" y2="803.6"/>
<line x1="674.9" y1="756.6" x2="650.3" y2="816.8" stroke-width="1.2"/>
<line x1="680" y1="756.6" x2="655.3" y2="816.8" stroke-width="1.2"/>
<line x1="273.4" y1="770.3" x2="273.4" y2="786.8" stroke-width="2.4"/>
<line x1="653.8" y1="770.3" x2="653.8" y2="786.8" stroke-width="2.4"/>
<line x1="365.6" y1="811.2" x2="365.6" y2="802"/>
<path d="M365.6,811.2 L580.9,821.3 V831.5" stroke-dasharray="2.2 3"/>
<path d="M220.3,820.9 L544.1,824.3 V831.5"/>
</g>
<path d="M365.6,798 L363.3,804 H367.9 Z" fill="#000"/>
<line x1="220.3" y1="820.9" x2="220.3" y2="807" stroke="#ff2a1a" stroke-width="1.4"/>
<path d="M220.3,799.5 L216.6,809.8 H224 Z" fill="#ff2a1a"/>
<g font-size="13.8" text-anchor="middle" style="stroke:none">
<text x="314.8" y="809.4">1</text>
<text x="329.8" y="809.4">2</text>
<text x="351.6" y="809.4">3</text>
<text x="377" y="809.4">4</text>
<text x="401.9" y="809.4">5</text>
<text x="426.8" y="809.4">6</text>
<text x="448.9" y="809.4">7</text>
<text x="475" y="809.4">8</text>
<text x="508" y="809.4">9</text>
<text x="537.8" y="809.4">10</text>
<text x="559.3" y="809.4">11</text>
<text x="582.2" y="809.4">12</text>
</g>
<rect x="526.4" y="834.60" width="36.3" height="26.16" fill="#FF5020"/>
<rect x="562.5" y="834.60" width="36.1" height="26.16" fill="#2479BD"/>
<rect x="526.4" y="860.46" width="36.3" height="26.16" fill="#FF5020"/>
<rect x="562.5" y="860.46" width="36.1" height="26.16" fill="#2479BD"/>
<rect x="526.4" y="886.33" width="36.3" height="26.16" fill="#FF7030"/>
<rect x="562.5" y="886.33" width="36.1" height="26.16" fill="#2479BD"/>
<rect x="526.4" y="912.19" width="36.3" height="26.16" fill="#FF7030"/>
<rect x="562.5" y="912.19" width="36.1" height="26.16" fill="#2479BD"/>
<rect x="526.4" y="938.05" width="36.3" height="26.16" fill="#FF9848"/>
<rect x="562.5" y="938.05" width="36.1" height="26.16" fill="#2479BD"/>
<rect x="526.4" y="963.91" width="36.3" height="26.16" fill="#FF9848"/>
<rect x="562.5" y="963.91" width="36.1" height="26.16" fill="#FCF7D2"/>
<rect x="526.4" y="989.78" width="36.3" height="26.16" fill="#2479BD"/>
<rect x="562.5" y="989.78" width="36.1" height="26.16" fill="#2479BD"/>
<rect x="526.4" y="1015.64" width="36.3" height="26.16" fill="#FB2E0B"/>
<rect x="562.5" y="1015.64" width="36.1" height="26.16" fill="#2479BD"/>
<rect x="526.4" y="1041.50" width="36.3" height="26.16" fill="#FF5020"/>
<rect x="562.5" y="1041.50" width="36.1" height="26.16" fill="#2479BD"/>
<rect x="526.4" y="1067.36" width="36.3" height="26.16" fill="#FF5020"/>
<rect x="562.5" y="1067.36" width="36.1" height="26.16" fill="#2479BD"/>
<rect x="526.4" y="1093.23" width="36.3" height="26.16" fill="#FF5020"/>
<rect x="562.5" y="1093.23" width="36.1" height="26.16" fill="#2479BD"/>
<rect x="526.4" y="1119.09" width="36.3" height="26.16" fill="#FF5020"/>
<rect x="562.5" y="1119.09" width="36.1" height="26.16" fill="#2479BD"/>
<rect x="526.4" y="1144.95" width="36.3" height="26.16" fill="#FF5020"/>
<rect x="562.5" y="1144.95" width="36.1" height="26.16" fill="#2479BD"/>
<rect x="526.4" y="1170.81" width="36.3" height="26.16" fill="#FF9848"/>
<rect x="562.5" y="1170.81" width="36.1" height="26.16" fill="#2479BD"/>
<rect x="526.4" y="1196.68" width="36.3" height="26.16" fill="#FFB860"/>
<rect x="562.5" y="1196.68" width="36.1" height="26.16" fill="#2479BD"/>
<rect x="526.4" y="1222.54" width="36.3" height="26.16" fill="#FFE8A0"/>
<rect x="562.5" y="1222.54" width="36.1" height="26.16" fill="#2479BD"/>
<rect x="523" y="832.1" width="77.8" height="418.7" fill="none" stroke="#000" stroke-width="1.6"/>
<g stroke="#000" stroke-width="1.6">
<line x1="515" y1="847.5" x2="523" y2="847.5"/>
<line x1="515" y1="873.4" x2="523" y2="873.4"/>
<line x1="515" y1="899.3" x2="523" y2="899.3"/>
<line x1="515" y1="925.1" x2="523" y2="925.1"/>
<line x1="515" y1="951.0" x2="523" y2="951.0"/>
<line x1="515" y1="976.8" x2="523" y2="976.8"/>
<line x1="515" y1="1002.7" x2="523" y2="1002.7"/>
<line x1="515" y1="1028.6" x2="523" y2="1028.6"/>
<line x1="515" y1="1054.4" x2="523" y2="1054.4"/>
<line x1="515" y1="1080.3" x2="523" y2="1080.3"/>
<line x1="515" y1="1106.2" x2="523" y2="1106.2"/>
<line x1="515" y1="1132.0" x2="523" y2="1132.0"/>
<line x1="515" y1="1157.9" x2="523" y2="1157.9"/>
<line x1="515" y1="1183.7" x2="523" y2="1183.7"/>
<line x1="515" y1="1209.6" x2="523" y2="1209.6"/>
<line x1="515" y1="1235.5" x2="523" y2="1235.5"/>
<line x1="544.4" y1="1250.8" x2="544.4" y2="1259.2"/><line x1="580.5" y1="1250.8" x2="580.5" y2="1259.2"/>
</g>
<g font-size="13.5" text-anchor="end">
<text x="507.6" y="851.8">Cervix</text>
<text x="507.6" y="877.7">Breast</text>
<text x="507.6" y="903.6">Adipose</text>
<text x="507.6" y="929.4">Colon</text>
<text x="507.6" y="955.3">Small Intestine</text>
<text x="507.6" y="981.1">Spinal Cord</text>
<text x="507.6" y="1007.0">Whole Blood</text>
<text x="507.6" y="1032.9">Teratocarcinoma</text>
<text x="507.6" y="1058.7">Rhabdomyosarcoma</text>
<text x="507.6" y="1084.6">Rectal Cancer</text>
<text x="507.6" y="1110.5">Sacrococcigeal Teratoma</text>
<text x="507.6" y="1136.3">Tridermal Teratoma</text>
<text x="507.6" y="1162.2">Normal Embryonic Palatal Mesenchymal</text>
<text x="507.6" y="1188.0">Colon Carcinoma</text>
<text x="507.6" y="1213.9">Gastric cancer</text>
<text x="507.6" y="1239.8">Gastric Adenocarcinoma</text>
</g>
<line x1="234" y1="1015.3" x2="598.8" y2="1015.3" stroke="#000" stroke-width="2.7" stroke-dasharray="6.3 2.5"/>
<text x="234" y="854.2" class="b" font-size="15.8">Tissue</text>
<text x="234" y="1035.6" class="b" font-size="15.8">Cell</text>
<text x="234" y="1053.7" class="b" font-size="15.8">line</text>
<text x="233" y="1272" class="b" font-size="16.1">Peak coordinates, strand</text>
<text x="264.5" y="1293" class="b" font-size="16.1">(GRCh37 genome)</text>
<text transform="translate(549.7,1266.2) rotate(-90)" font-size="13.5" text-anchor="end">chr2:85360499..85360598,+</text>
<text transform="translate(585.5,1266.2) rotate(-90)" font-size="13.5" text-anchor="end">chr2:85413434..85413436,+</text>
<rect x="623.4" y="832.10" width="23.5" height="26.47" fill="#FB2E0B"/>
<rect x="623.4" y="858.27" width="23.5" height="26.47" fill="#FF5020"/>
<rect x="623.4" y="884.44" width="23.5" height="26.47" fill="#FF7030"/>
<rect x="623.4" y="910.61" width="23.5" height="26.47" fill="#FF9848"/>
<rect x="623.4" y="936.77" width="23.5" height="26.47" fill="#FFB860"/>
<rect x="623.4" y="962.94" width="23.5" height="26.47" fill="#FFD080"/>
<rect x="623.4" y="989.11" width="23.5" height="26.47" fill="#FFE8A0"/>
<rect x="623.4" y="1015.28" width="23.5" height="26.47" fill="#FFF3B0"/>
<rect x="623.4" y="1041.45" width="23.5" height="26.47" fill="#FCF7D2"/>
<rect x="623.4" y="1067.62" width="23.5" height="26.47" fill="#E8F7E8"/>
<rect x="623.4" y="1093.79" width="23.5" height="26.47" fill="#D0F0F8"/>
<rect x="623.4" y="1119.96" width="23.5" height="26.47" fill="#ABE4EE"/>
<rect x="623.4" y="1146.12" width="23.5" height="26.47" fill="#85C8DC"/>
<rect x="623.4" y="1172.29" width="23.5" height="26.47" fill="#5AAFD0"/>
<rect x="623.4" y="1198.46" width="23.5" height="26.47" fill="#4393C3"/>
<rect x="623.4" y="1224.63" width="23.5" height="26.47" fill="#2479BD"/>
<rect x="623.4" y="832.1" width="23.5" height="418.7" fill="none" stroke="#000" stroke-width="1.6"/>
<line x1="646.9" y1="835.2" x2="652.4" y2="835.2" stroke="#000" stroke-width="1.5"/>
<text x="658.8" y="840.1" font-size="14.8">6</text>
<line x1="646.9" y1="889.3" x2="652.4" y2="889.3" stroke="#000" stroke-width="1.5"/>
<text x="658.8" y="894.2" font-size="14.8">4</text>
<line x1="646.9" y1="943.4" x2="652.4" y2="943.4" stroke="#000" stroke-width="1.5"/>
<text x="658.8" y="948.3" font-size="14.8">2</text>
<line x1="646.9" y1="997.5" x2="652.4" y2="997.5" stroke="#000" stroke-width="1.5"/>
<text x="658.8" y="1002.4" font-size="14.8">0</text>
<line x1="646.9" y1="1051.6" x2="652.4" y2="1051.6" stroke="#000" stroke-width="1.5"/>
<text x="658.8" y="1056.5" font-size="14.8">−2</text>
<line x1="646.9" y1="1105.7" x2="652.4" y2="1105.7" stroke="#000" stroke-width="1.5"/>
<text x="658.8" y="1110.6" font-size="14.8">−4</text>
<line x1="646.9" y1="1159.8" x2="652.4" y2="1159.8" stroke="#000" stroke-width="1.5"/>
<text x="658.8" y="1164.7" font-size="14.8">−6</text>
<line x1="646.9" y1="1213.9" x2="652.4" y2="1213.9" stroke="#000" stroke-width="1.5"/>
<text x="658.8" y="1218.8" font-size="14.8">−8</text>
<text transform="translate(618.2,1138.2) rotate(-90)" font-size="16.15">log2 expression intensity</text>
</svg></body></html>
